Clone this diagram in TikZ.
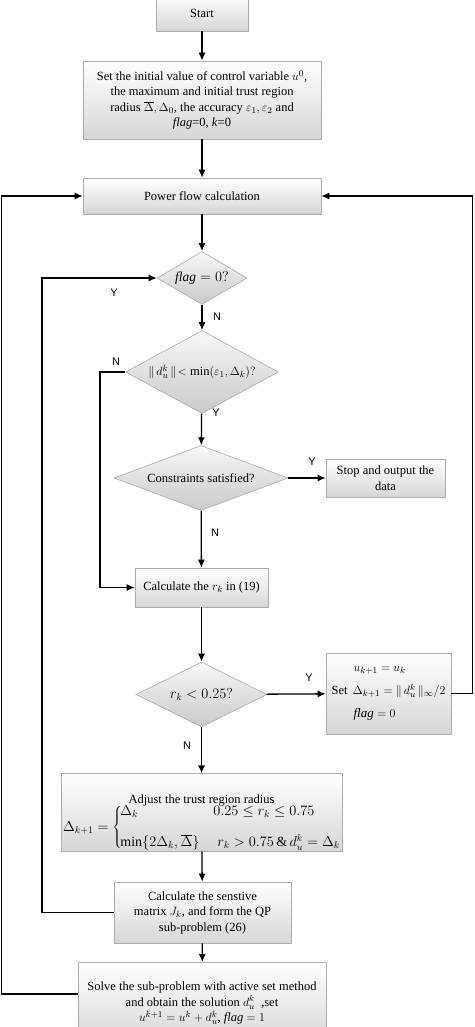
\documentclass[tikz,border=0pt]{standalone}
\usepackage{fontspec}
\setmainfont{Liberation Serif}
\newfontfamily\lblfont{Liberation Sans}
\usetikzlibrary{shapes.geometric,arrows.meta}
\tikzset{
  box/.style={draw=gray!65, line width=0.6pt, top color=white, bottom color=gray!32, align=center, inner sep=2pt,
    font=\fontsize{12.5}{15.5}\selectfont},
  dia/.style={shape=diamond, draw=gray!65, line width=0.6pt, top color=gray!6, bottom color=gray!42, inner sep=0pt,
    font=\fontsize{13.5}{15.5}\selectfont},
  arr/.style={-{Latex[length=8pt,width=7pt]}, line width=1.3pt},
  yn/.style={font=\lblfont\fontsize{11}{13}\selectfont, inner sep=0pt}
}
\begin{document}
\begin{tikzpicture}[x=1pt,y=-1pt]
\useasboundingbox (0,0) rectangle (474,1027);
% nodes
\node[box, minimum width=92pt, minimum height=36pt] (start) at (202,13) {Start};
\node[box, minimum width=238pt, minimum height=78pt] (init) at (202,100)
  {Set the initial value of control variable $u^{0}$,\\
   the maximum and initial trust region\\
   radius $\overline{\Delta},\Delta_{0}$, the accuracy $\varepsilon_{1},\varepsilon_{2}$ and\\
   \textit{flag}=0, \textit{k}=0};
\node[box, minimum width=238pt, minimum height=36pt] (pf) at (202,196) {Power flow calculation};
\node[dia, minimum width=90pt, minimum height=53pt] (flag) at (202,278)
  {\makebox[0pt]{$\mathit{flag}=0?$}};
\node[dia, minimum width=153pt, minimum height=83pt] (norm) at (202,372)
  {\makebox[0pt]{\fontsize{12.5}{15}\selectfont$\|\,d_{u}^{k}\,\|\!<\min(\varepsilon_{1},\Delta_{k})?$}};
\node[dia, minimum width=174pt, minimum height=65pt] (cons) at (201,478)
  {\makebox[0pt]{\fontsize{12.5}{15}\selectfont Constraints satisfied?}};
\node[box, minimum width=119pt, minimum height=38pt] (stop) at (385.5,478)
  {Stop and output the\\data};
\node[box, minimum width=133pt, minimum height=39pt] (calc) at (201.5,587.5)
  {Calculate the $r_{k}$ in (19)};
\node[dia, minimum width=131pt, minimum height=65pt] (rk) at (201.5,694.5)
  {\makebox[0pt]{\fontsize{14.5}{16}\selectfont$r_{k}<0.25?$}};
\node[box, minimum width=125pt, minimum height=81pt, align=left, font=\fontsize{13}{23}\selectfont] (set) at (388.5,693.5)
  {\hspace*{22pt}$u_{k+1}=u_{k}$\\
   {\fontsize{12.5}{23}\selectfont Set}\, $\Delta_{k+1}=\|\,d_{u}^{k}\,\|_{\infty}/2$\\
   \hspace*{22pt}$\mathit{flag}=0$};
\node[box, minimum width=273pt, minimum height=77pt, inner ysep=0pt] (adjust) at (201.5,812.5)
  {\rule{0pt}{30pt}Adjust the trust region radius\\[-3pt]
   {\fontsize{14}{16}\selectfont
   $\Delta_{k+1}=\left\{\rule[-18pt]{0pt}{43pt}\right.$\!\begin{tabular}{@{}l@{\hspace{14pt}}l@{}}
     $\Delta_{k}$ & $0.25\le r_{k}\le 0.75$\\[14pt]
     $\min\{2\Delta_{k},\overline{\Delta}\}$ & $\;r_{k}>0.75\,\&\,d_{u}^{k}=\Delta_{k}$
   \end{tabular}}};
\node[box, minimum width=177pt, minimum height=61pt] (J) at (202.5,912.5)
  {Calculate the senstive\\matrix $J_{k}$, and form the QP\\sub-problem (26)};
\node[box, minimum width=248pt, minimum height=82pt, anchor=north] (solve) at (202,962)
  {Solve the sub-problem with active set method\\
   and obtain the solution $d_{u}^{k}$\ \ ,set\\
   $u^{k+1}=u^{k}+d_{u}^{k}$, $\mathit{flag}=1$};
% connectors
\draw[arr] (start) -- (init);
\draw[arr] (init) -- (pf);
\draw[arr] (pf) -- (flag);
\draw[arr] (flag) -- (norm);
\draw[arr] (norm) -- (cons);
\draw[arr] (cons) -- (stop);
\draw[arr] (cons) -- (calc);
\draw[arr] (norm.west) -- (100,372) -- (100,587.5) -- (calc.west);
\draw[arr] (calc) -- (rk);
\draw[arr] (rk) -- (set);
\draw[arr] (rk) -- (adjust);
\draw[arr] (adjust) -- (J);
\draw[arr] (J) -- (solve);
\draw[arr] (J.west) -- (42,912.5) -- (42,278) -- (flag.west);
\draw[arr] (solve.west |- 0,994) -- (1.5,994) -- (1.5,196) -- (pf.west);
\draw[arr] (set.east) -- (472.5,693.5) -- (472.5,196) -- (pf.east);
% labels
\node[yn] (l1) at (217,317) {N};
\node[yn] (l2) at (216,413) {Y};
\node[yn] (l3) at (312,462) {Y};
\node[yn] (l4) at (215,533) {N};
\node[yn] (l5) at (116,362) {N};
\node[yn] (l6) at (114,293) {Y};
\node[yn] (l7) at (309,678) {Y};
\node[yn] (l8) at (187,746) {N};
\end{tikzpicture}
\end{document}
